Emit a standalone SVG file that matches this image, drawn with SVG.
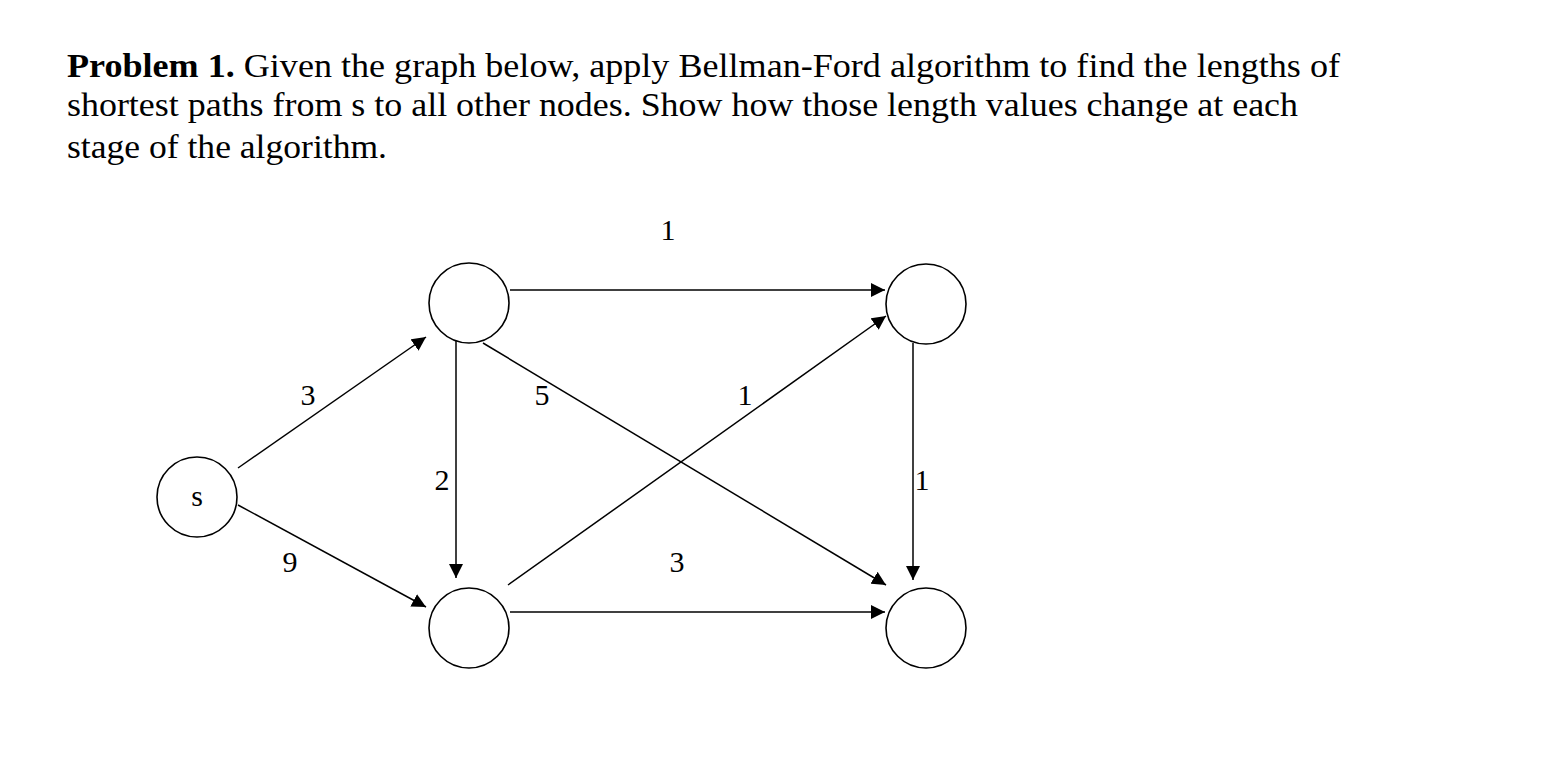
<svg xmlns="http://www.w3.org/2000/svg" width="1560" height="760" viewBox="0 0 1560 760">
<style>
text{font-family:"Liberation Serif","Times New Roman",serif;fill:#000}
.t{font-size:34px}
.l{font-size:30px;text-anchor:middle}
.n{fill:#fff;stroke:#000;stroke-width:1.6}
.e{stroke:#000;stroke-width:1.5;fill:none;marker-end:url(#a)}
</style>
<defs><marker id="a" viewBox="0 0 10 10" refX="10" refY="5" markerWidth="14" markerHeight="14" markerUnits="userSpaceOnUse" orient="auto"><path d="M0,0L10,5L0,10z" fill="#000"/></marker></defs>
<rect width="1560" height="760" fill="#fff"/>
<text class="t" x="67" y="77" textLength="1273" lengthAdjust="spacingAndGlyphs"><tspan font-weight="bold">Problem 1.</tspan> Given the graph below, apply Bellman-Ford algorithm to find the lengths of</text>
<text class="t" x="67" y="116" textLength="1231" lengthAdjust="spacingAndGlyphs">shortest paths from s to all other nodes. Show how those length values change at each</text>
<text class="t" x="67" y="158" textLength="320" lengthAdjust="spacingAndGlyphs">stage of the algorithm.</text>
<g id="edges">
<line class="e" x1="238" y1="468" x2="426" y2="337"/>
<line class="e" x1="238" y1="505" x2="426" y2="607"/>
<line class="e" x1="510" y1="290" x2="885" y2="290"/>
<line class="e" x1="456" y1="338" x2="456" y2="578"/>
<line class="e" x1="483" y1="343" x2="886" y2="585"/>
<line class="e" x1="508" y1="585" x2="886" y2="316"/>
<line class="e" x1="510" y1="612" x2="885" y2="612"/>
<line class="e" x1="913" y1="343" x2="913" y2="580"/>
<text class="l" x="668" y="240">1</text>
<text class="l" x="308" y="405">3</text>
<text class="l" x="542" y="405">5</text>
<text class="l" x="745" y="405">1</text>
<text class="l" x="442" y="490">2</text>
<text class="l" x="922" y="490">1</text>
<text class="l" x="290" y="572">9</text>
<text class="l" x="677" y="572">3</text>
</g>
<g id="s"><circle class="n" cx="197" cy="497" r="40"/><text class="l" x="197" y="506">s</text></g>
<g id="a1"><circle class="n" cx="469" cy="303" r="40"/></g>
<g id="b1"><circle class="n" cx="926" cy="304" r="40"/></g>
<g id="c1"><circle class="n" cx="469" cy="628" r="40"/></g>
<g id="d1"><circle class="n" cx="926" cy="628" r="40"/></g>
</svg>
